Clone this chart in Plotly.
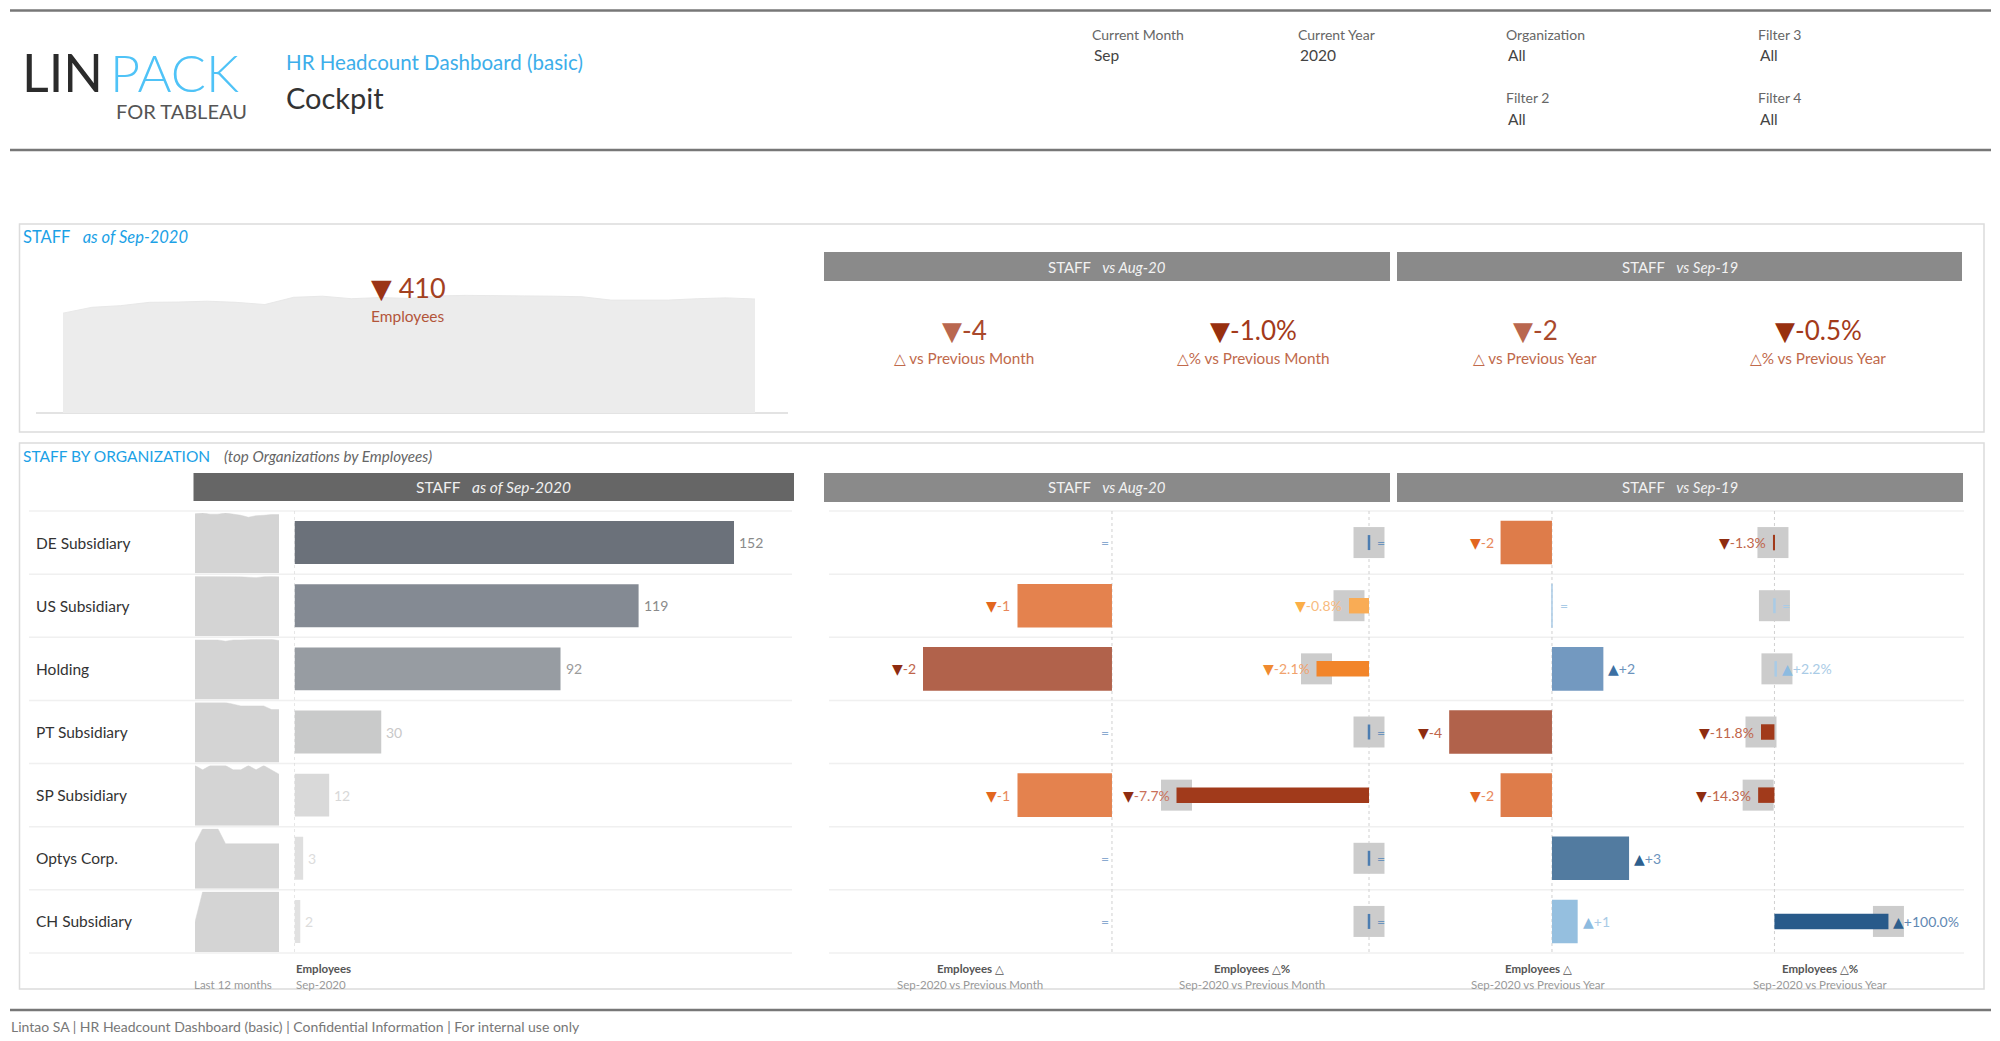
import plotly.graph_objects as go

W, H = 2000, 1041
FONT = "Lato, 'Open Sans', 'DejaVu Sans', sans-serif"

# ---------------- data ----------------
trend_months = ["Sep-18", "Oct-18", "Nov-18", "Dec-18", "Jan-19", "Feb-19", "Mar-19", "Apr-19",
                "May-19", "Jun-19", "Jul-19", "Aug-19", "Sep-19", "Oct-19", "Nov-19", "Dec-19",
                "Jan-20", "Feb-20", "Mar-20", "Apr-20", "May-20", "Jun-20", "Jul-20", "Aug-20", "Sep-20"]
trend_staff = [359, 380, 386, 398, 399, 402, 398, 390, 416, 420, 411, 415, 412,
               421, 423, 423, 421, 420, 418, 406, 406, 406, 411, 414, 410]

kpi_total = 410
kpi_values = [-4, -1.0, -2, -0.5]
kpi_labels = ["△ vs Previous Month", "△% vs Previous Month", "△ vs Previous Year", "△% vs Previous Year"]

orgs = ["DE Subsidiary", "US Subsidiary", "Holding", "PT Subsidiary",
        "SP Subsidiary", "Optys Corp.", "CH Subsidiary"]
employees = [152, 119, 92, 30, 12, 3, 2]
delta_prev_month = [0, -1, -2, 0, -1, 0, 0]
pct_prev_month = [0.0, -0.8, -2.1, 0.0, -7.7, 0.0, 0.0]
delta_prev_year = [-2, 0, 2, -4, -2, 3, 1]
pct_prev_year = [-1.3, 0.0, 2.2, -11.8, -14.3, None, 100.0]

spark_months = ["Oct-19", "Nov-19", "Dec-19", "Jan-20", "Feb-20", "Mar-20",
                "Apr-20", "May-20", "Jun-20", "Jul-20", "Aug-20", "Sep-20"]
spark_de = [154, 156, 153, 153, 156, 153, 150, 145, 149, 150, 152, 152]
spark_us = [120, 120, 120, 120, 120, 120, 119, 118, 117, 119, 120, 119]
spark_holding = [93, 93, 94, 93, 91, 93, 93, 94, 94, 94, 94, 92]
spark_pt = [34, 34, 34, 34, 34, 33, 32, 32, 32, 32, 30, 30]
spark_sp = [14, 13, 14, 14, 14, 13, 13, 14, 13, 14, 13, 12]
spark_optys = [3, 4, 4, 4, 3, 3, 3, 3, 3, 3, 3, 3]
spark_ch = [1, 2, 2, 2, 2, 2, 2, 2, 2, 2, 2, 2]
sparklines = [spark_de, spark_us, spark_holding, spark_pt, spark_sp, spark_optys, spark_ch]

# ---------------- styles ----------------
main_bar_colors = ["#6b717a", "#848a93", "#979ca2", "#c9caca", "#d9d9d9", "#dfdfdf", "#e1e1e1"]
main_label_colors = ["#8a8a8a", "#8a8a8a", "#9b9b9b", "#c8c8c8", "#d8d8d8", "#dcdcdc", "#dcdcdc"]

OR_BAR, OR_TRI, OR_TXT = "#e4824e", "#e2661f", "#e8875a"
BR_BAR, BR_TRI, BR_TXT = "#b1624b", "#8e2c10", "#c0654a"
RU_BAR = "#a13a1b"

aug_d_bar = [None, OR_BAR, BR_BAR, None, OR_BAR, None, None]
aug_d_tri = [None, OR_TRI, BR_TRI, None, OR_TRI, None, None]
aug_d_txt = [None, OR_TXT, BR_TXT, None, OR_TXT, None, None]

aug_p_bar = [None, "#f9ac55", "#f2852a", None, RU_BAR, None, None]
aug_p_tri = [None, "#fbae47", "#f08a30", None, BR_TRI, None, None]
aug_p_txt = [None, "#f8bb80", "#f1a26c", None, "#c9705a", None, None]

sep_d_bar = ["#de7c4a", None, "#7399c0", BR_BAR, "#de7c4a", "#527ba0", "#95bfdf"]
sep_d_tri = [OR_TRI, None, "#3c70a3", BR_TRI, OR_TRI, "#2d5f8e", "#8dbbe0"]
sep_d_txt = [OR_TXT, None, "#6b93bd", BR_TXT, OR_TXT, "#6b93bd", "#a9cbe6"]

sep_p_bar = [RU_BAR, None, "#a9cbe6", RU_BAR, RU_BAR, None, "#285a8a"]
sep_p_tri = [BR_TRI, None, "#8dbbe0", BR_TRI, BR_TRI, None, "#2d5f8e"]
sep_p_txt = [BR_TXT, None, "#a9cbe6", BR_TXT, BR_TXT, None, "#5f88b3"]


def px(x):
    return x / W


def py(y):
    return 1 - y / H


def xdom(a, b):
    return [a / W, b / W]


def ydom(top, bottom):
    return [1 - bottom / H, 1 - top / H]


fig = go.Figure()
axes = {}
annotations = []
shapes = []


def text(t, x, y, size=14, color="#333", xanchor="left", yanchor="middle",
         xref="paper", yref="paper", xshift=0, yshift=0, weight=None):
    if xref == "paper":
        x = px(x)
    if yref == "paper":
        y = py(y)
    f = dict(family=FONT, size=size, color=color)
    if weight:
        f["weight"] = weight
    annotations.append(dict(text=t, x=x, y=y, xref=xref, yref=yref, xanchor=xanchor,
                            yanchor=yanchor, showarrow=False, xshift=xshift, yshift=yshift,
                            font=f))


def hline(x0, x1, y, color, width, dash=None):
    shapes.append(dict(type="line", xref="paper", yref="paper", x0=px(x0), x1=px(x1),
                       y0=py(y), y1=py(y), line=dict(color=color, width=width, dash=dash),
                       layer="below"))


def rect(x0, y0, x1, y1, fill="rgba(0,0,0,0)", line_color=None, lw=0):
    shapes.append(dict(type="rect", xref="paper", yref="paper", x0=px(x0), x1=px(x1),
                       y0=py(y1), y1=py(y0), fillcolor=fill,
                       line=dict(color=line_color or fill, width=lw), layer="below"))


# ---------------- header ----------------
hline(10, 1991, 10.5, "#777777", 2.5)
hline(10, 1991, 150, "#777777", 2.5)
text("LIN", 105, 72, size=52, color="#2b2b2b", xanchor="right")
text("PACK", 108, 72, size=52, color="#4fc3f7", weight=300)
text("FOR TABLEAU", 249, 111, size=20, color="#555555", xanchor="right")
text("HR Headcount Dashboard (basic)", 284, 62, size=20.5, color="#3daeea")
text("Cockpit", 284, 97, size=29, color="#333333")

filters = [("Current Month", "Sep", 1090, 34), ("Current Year", "2020", 1296, 34),
           ("Organization", "All", 1504, 34), ("Filter 3", "All", 1756, 34),
           ("Filter 2", "All", 1504, 98), ("Filter 4", "All", 1756, 98)]
for lab, val, fx, fy in filters:
    text(lab, fx, fy, size=14, color="#666666")
    text(val, fx + 2, fy + 21, size=15.5, color="#444444")

# ---------------- KPI section ----------------
rect(19.5, 224, 1984, 432, line_color="#dcdcdc", lw=1.5)
text("STAFF\u00a0\u00a0 <i>as of Sep-2020</i>", 21, 237, size=16.5, color="#1ba1e6")

axes["xaxis"] = dict(domain=xdom(63, 755), range=[0, 24], visible=False, anchor="y")
axes["yaxis"] = dict(domain=ydom(283, 413), range=[0, 467.5], visible=False, anchor="x")
fig.add_trace(go.Scatter(x=trend_months, y=trend_staff, xaxis="x", yaxis="y", mode="lines",
                         fill="tozeroy", fillcolor="#ececec", line=dict(color="#e8e8e8", width=1),
                         hoverinfo="skip", showlegend=False))
hline(36, 788, 413, "#e3e3e3", 2)

text(f"<span style='color:#9b3416'>▼</span> {kpi_total}", 408, 288, size=27, color="#a3411f",
     xanchor="center")
text("Employees", 408, 316, size=15.5, color="#b3553a", xanchor="center")

for x0, x1, lab in [(824, 1390, "vs Aug-20"), (1397, 1962, "vs Sep-19")]:
    rect(x0, 252, x1, 281, fill="#8a8a8a")
    text(f"STAFF\u00a0\u00a0 <i>{lab}</i>", (x0 + x1) / 2, 267, size=15, color="#f2f2f2",
         xanchor="center")

kpi_x = [964, 1253, 1535, 1818]
kpi_tri = ["#b9674f", "#98300f", "#b9674f", "#98300f"]
kpi_txt = ["#a9492c", "#a33a1a", "#a9492c", "#a33a1a"]
for i, v in enumerate(kpi_values):
    s = f"{v:+d}" if isinstance(v, int) else f"{v:+.1f}%"
    text(f"<span style='color:{kpi_tri[i]}'>▼</span>{s}", kpi_x[i], 330, size=26,
         color=kpi_txt[i], xanchor="center")
    text(kpi_labels[i], kpi_x[i], 358, size=15.3, color="#c0694b", xanchor="center")

# ---------------- STAFF BY ORGANIZATION ----------------
rect(19.5, 443, 1984, 989, line_color="#dcdcdc", lw=1.5)
text("STAFF BY ORGANIZATION", 21, 456, size=15.5, color="#1ba1e6")
text("<i>(top Organizations by Employees)</i>", 222, 456, size=15.2, color="#666666")

rect(193.5, 473, 794, 501, fill="#666666")
text("STAFF\u00a0\u00a0 <i>as of Sep-2020</i>", 493, 487, size=15.5, color="#f0f0f0", xanchor="center")
for x0, x1, lab in [(824, 1390, "vs Aug-20"), (1397, 1963, "vs Sep-19")]:
    rect(x0, 473, x1, 502, fill="#8a8a8a")
    text(f"STAFF\u00a0\u00a0 <i>{lab}</i>", (x0 + x1) / 2, 487, size=15, color="#f2f2f2",
         xanchor="center")

T_TOP, T_BOT = 511, 953
n = len(orgs)
row_h = (T_BOT - T_TOP) / n
rows = list(range(n))
for i in range(n + 1):
    yy = T_TOP + i * row_h
    hline(29, 792, yy, "#f0f0f0", 1.5)
    hline(829, 1964, yy, "#f0f0f0", 1.5)

axes["yaxis3"] = dict(domain=ydom(T_TOP, T_BOT), range=[n - 0.5, -0.5], visible=False, anchor="x3")
axes["xaxis3"] = dict(domain=xdom(294.5, 793), range=[0, 172.4], visible=False, anchor="y3")
axes["xaxis4"] = dict(domain=xdom(829, 1120), range=[-2.995, 0.085], visible=False, anchor="y3")
axes["xaxis5"] = dict(domain=xdom(1120, 1390), range=[-9.96, 0.84], visible=False, anchor="y3")
axes["xaxis6"] = dict(domain=xdom(1397, 1700), range=[-6.03, 5.76], visible=False, anchor="y3")
axes["xaxis7"] = dict(domain=xdom(1700, 1963), range=[-65.3, 165.4], visible=False, anchor="y3")

for ax in ["x3", "x4", "x5", "x6", "x7"]:
    shapes.append(dict(type="line", xref=ax, yref="paper", x0=0, x1=0, y0=py(T_TOP), y1=py(T_BOT),
                       line=dict(color="#d0d0d0", width=1, dash="dot"), layer="below"))

# row labels + sparklines
for i, org in enumerate(orgs):
    text(org, 34, 0, size=15.5, color="#333333", yref="y3")
    annotations[-1]["y"] = i
    k = 8 + i
    top = T_TOP + i * row_h + 2
    bot = T_TOP + (i + 1) * row_h - 1
    axes[f"xaxis{k}"] = dict(domain=xdom(195, 279), range=[0, len(spark_months) - 1],
                             visible=False, anchor=f"y{k}")
    axes[f"yaxis{k}"] = dict(domain=ydom(top, bot), range=[0, max(sparklines[i])],
                             visible=False, anchor=f"x{k}")
    fig.add_trace(go.Scatter(x=spark_months, y=sparklines[i], xaxis=f"x{k}", yaxis=f"y{k}",
                             mode="lines", fill="tozeroy", fillcolor="#d4d4d4",
                             line=dict(color="#d4d4d4", width=0.5), hoverinfo="skip",
                             showlegend=False))

# main employees bars
fig.add_trace(go.Bar(x=employees, y=rows, orientation="h", xaxis="x3", yaxis="y3", width=0.68,
                     marker=dict(color=main_bar_colors, line=dict(width=0)),
                     hoverinfo="skip", showlegend=False))
for i, v in enumerate(employees):
    text(str(v), v, i, size=14, color=main_label_colors[i], xref="x3", yref="y3", xshift=3)


def add_column(axis, values, width, bar_c, tri_c, txt_c, pct, boxes, zero):
    idx = [i for i, v in enumerate(values) if v not in (0, None)]
    fig.add_trace(go.Bar(x=[values[i] for i in idx], y=idx, orientation="h", xaxis=axis,
                         yaxis="y3", width=width,
                         marker=dict(color=[bar_c[i] for i in idx], line=dict(width=0)),
                         hoverinfo="skip", showlegend=False))
    for i in idx:
        v = values[i]
        s = f"{v:+.1f}%" if pct else f"{v:+d}"
        tri = "▲" if v > 0 else "▼"
        t = f"<span style='color:{tri_c[i]}'>{tri}</span>{s}"
        if v < 0:
            text(t, v, i, size=14, color=txt_c[i], xref=axis, yref="y3", xanchor="right", xshift=-5)
        else:
            text(t, v, i, size=14, color=txt_c[i], xref=axis, yref="y3", xanchor="left", xshift=3)
    if boxes:
        for i, v in enumerate(values):
            if v is None:
                continue
            shapes.append(dict(type="rect", xref=axis, yref="y3", xsizemode="pixel",
                               ysizemode="pixel", xanchor=v, yanchor=i, x0=-15.5, x1=15.5,
                               y0=-15.5, y1=15.5, fillcolor="#cccccc", line=dict(width=0),
                               layer="below"))
    zidx = [i for i, v in enumerate(values) if v == 0]
    if zero.get("tick"):
        fig.add_trace(go.Scatter(x=[0] * len(zidx), y=zidx, xaxis=axis, yaxis="y3", mode="markers",
                                 marker=dict(symbol="line-ns", size=zero["tick"],
                                             line=dict(color=zero["color"], width=zero["lw"])),
                                 hoverinfo="skip", showlegend=False))
    for i in zidx:
        if zero["side"] == "left":
            text("=", 0, i, size=14, color=zero["eq"], xref=axis, yref="y3", xanchor="right", xshift=-1)
        else:
            text("=", 0, i, size=14, color=zero["eq"], xref=axis, yref="y3", xanchor="left", xshift=6)


add_column("x4", delta_prev_month, 0.69, aug_d_bar, aug_d_tri, aug_d_txt, False, False,
           dict(side="left", eq="#8aaad0"))
add_column("x5", pct_prev_month, 0.245, aug_p_bar, aug_p_tri, aug_p_txt, True, True,
           dict(side="right", eq="#6b93bd", tick=10.7, color="#4c7db1", lw=2.5))
add_column("x6", delta_prev_year, 0.69, sep_d_bar, sep_d_tri, sep_d_txt, False, False,
           dict(side="right", eq="#a9cbe6", tick=31.4, color="#a9cbe6", lw=1.5))
add_column("x7", pct_prev_year, 0.245, sep_p_bar, sep_p_tri, sep_p_txt, True, True,
           dict(side="right", eq="#a9cbe6", tick=10.7, color="#a9cbe6", lw=2.5))

# column footers
text("Last 12 months", 274, 984, size=11.5, color="#999999", xanchor="right")
text("<b>Employees</b>", 294, 968, size=11.5, color="#555555")
text("Sep-2020", 294, 984, size=11.5, color="#999999")
for cx, t1, t2 in [(970, "Employees △", "Sep-2020 vs Previous Month"),
                   (1252, "Employees △%", "Sep-2020 vs Previous Month"),
                   (1538, "Employees △", "Sep-2020 vs Previous Year"),
                   (1820, "Employees △%", "Sep-2020 vs Previous Year")]:
    text(f"<b>{t1}</b>", cx, 968, size=11.5, color="#555555", xanchor="center")
    text(t2, cx, 984, size=11.5, color="#999999", xanchor="center")

# ---------------- footer ----------------
hline(10, 1991, 1010, "#777777", 2.5)
text("Lintao SA | HR Headcount Dashboard (basic) | Confidential Information | For internal use only",
     9, 1026, size=14, color="#777777")

fig.update_layout(width=W, height=H, margin=dict(l=0, r=0, t=0, b=0),
                  paper_bgcolor="white", plot_bgcolor="rgba(0,0,0,0)",
                  barmode="overlay", hovermode=False, showlegend=False,
                  font=dict(family=FONT), annotations=annotations, shapes=shapes, **axes)

fig.write_html("out.html")
